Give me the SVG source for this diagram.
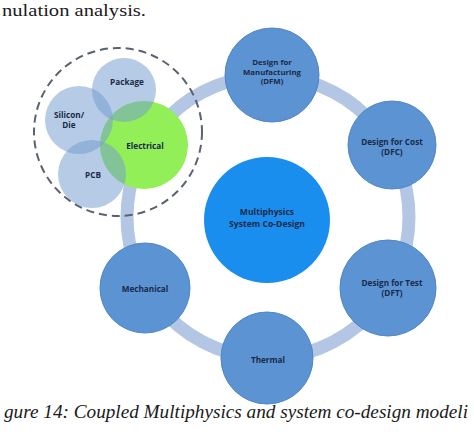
<svg xmlns="http://www.w3.org/2000/svg" width="474" height="440" viewBox="0 0 474 440">
<style>
.node{fill:#5b93d3;stroke:#4f86c6;stroke-width:1}
.lbl{font-family:"Open Sans","Liberation Sans",sans-serif;font-weight:bold;font-size:8.2px;fill:#1a2a48;text-anchor:middle}
.sub{fill:#739dd0;fill-opacity:0.53}
.serif{font-family:"Liberation Serif",serif;fill:#1a1a1a}
</style>
<rect width="474" height="440" fill="#ffffff"/>
<text class="serif" x="2" y="16" font-size="17.5" textLength="144" lengthAdjust="spacingAndGlyphs">nulation analysis.</text>
<g id="connectors">
<circle cx="268" cy="217" r="141" fill="none" stroke="#b3c6e4" stroke-width="13"/>
</g>
<g id="center">
<circle cx="267" cy="220" r="63" fill="#1a8eef"/>
<text class="lbl" x="267" y="214.5" style="font-size:8.6px">Multiphysics</text>
<text class="lbl" x="267" y="226.5" style="font-size:8.6px">System Co-Design</text>
</g>
<g id="dfm">
<circle class="node" cx="272" cy="75" r="47"/>
<text class="lbl" x="272" y="65" style="font-size:7.8px">Design for</text>
<text class="lbl" x="272" y="74.5" style="font-size:7.8px">Manufacturing</text>
<text class="lbl" x="272" y="84" style="font-size:7.8px">(DFM)</text>
</g>
<g id="dfc">
<circle class="node" cx="392" cy="145" r="44"/>
<text class="lbl" x="392" y="145">Design for Cost</text>
<text class="lbl" x="392" y="155">(DFC)</text>
</g>
<g id="dft">
<circle class="node" cx="388" cy="288" r="48"/>
<text class="lbl" x="392" y="286">Design for Test</text>
<text class="lbl" x="392" y="296">(DFT)</text>
</g>
<g id="thermal">
<circle class="node" cx="267" cy="358" r="46"/>
<text class="lbl" x="268" y="363">Thermal</text>
</g>
<g id="mechanical">
<circle class="node" cx="145" cy="288" r="45"/>
<text class="lbl" x="145" y="292">Mechanical</text>
</g>
<g id="electrical-cluster">
<circle cx="118" cy="132" r="84" fill="none" stroke="#5a6272" stroke-width="2" stroke-dasharray="8 5"/>
<circle cx="144" cy="145" r="44" fill="#92ef58"/>
<g id="package"><circle class="sub" cx="124" cy="90" r="32"/></g>
<g id="silicon"><circle class="sub" cx="79" cy="120" r="34"/></g>
<g id="pcb"><circle class="sub" cx="92" cy="174" r="34"/></g>
<text class="lbl" x="145" y="149">Electrical</text>
<text class="lbl" x="127" y="85">Package</text>
<text class="lbl" x="69" y="118">Silicon/</text>
<text class="lbl" x="69" y="128">Die</text>
<text class="lbl" x="93" y="178">PCB</text>
</g>
<text class="serif" x="4" y="418" font-size="19.5" font-style="italic" textLength="464" lengthAdjust="spacingAndGlyphs">gure 14: Coupled Multiphysics and system co-design modeli</text>
</svg>
